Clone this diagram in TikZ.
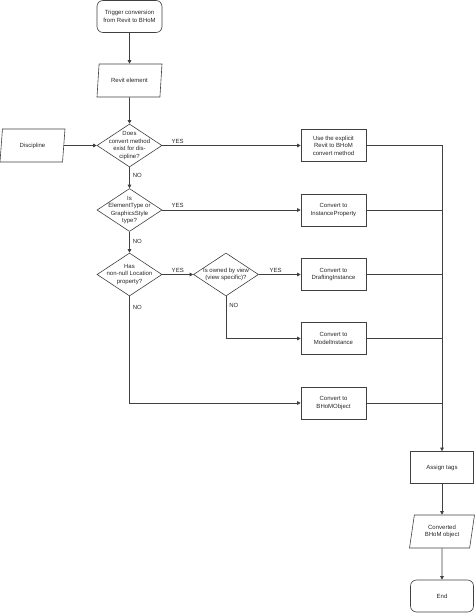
\documentclass[tikz,border=0pt]{standalone}
\usepackage{fontspec}
\setmainfont{Liberation Sans}
\usetikzlibrary{shapes.geometric,arrows.meta}

\tikzset{
  base/.style={draw=black!75, text=black!85, font=\fontsize{6}{7.4}\selectfont, align=center, inner sep=1pt, line width=0.6pt},
  process/.style={base, rectangle, minimum width=65pt, minimum height=32pt},
  terminal/.style={process, rounded corners=6pt},
  io/.style={base, trapezium, trapezium left angle=72, trapezium right angle=108, trapezium stretches body, minimum width=65pt, minimum height=33pt},
  decision/.style={base, diamond, minimum width=65pt, minimum height=43pt, inner sep=0pt},
  dtext/.style={text=black!85, font=\fontsize{6}{7.6}\selectfont, align=center, inner sep=0pt},
  line/.style={draw=black!75, line width=0.6pt},
  arrow/.style={line, -{Triangle[length=3.5pt,width=3.5pt]}},
  answer/.style={text=black!85, font=\fontsize{6}{7}\selectfont, inner sep=1pt}
}

\begin{document}
\begin{tikzpicture}[x=1pt, y=-1pt]
	\useasboundingbox (0,0) rectangle (474,613);
	% main column
	\node[terminal] (trigger) at (129.5,16.5) {Trigger conversion\\from Revit to BHoM};
	\node[io] (element) at (129.5,80.5) {Revit element};
	\node[io] (discipline) at (32.5,145.5) {Discipline};
	\node[decision, label={[dtext]center:Does\\convert method\\exist for dis-\\cipline?}] (hasmethod) at (129.5,145.5) {};
	\node[decision, label={[dtext]center:Is\\ElementType or\\GraphicsStyle\\type?}] (istype) at (129.5,210) {};
	\node[decision, label={[dtext]center:Has\\non-null Location\\property?}] (haslocation) at (129.5,274.5) {};
	\node[decision, label={[dtext]center:Is owned by view\\(view specific)?}] (isowned) at (226,274.5) {};
	% conversions
	\node[process] (explicit) at (333.5,145.5) {Use the explicit\\Revit to BHoM\\convert method};
	\node[process] (toproperty) at (333.5,210) {Convert to\\InstanceProperty};
	\node[process] (todrafting) at (333.5,274.5) {Convert to\\DraftingInstance};
	\node[process] (tomodel) at (333.5,338.5) {Convert to\\ModelInstance};
	\node[process] (tobhom) at (333.5,403) {Convert to\\BHoMObject};
	% output column
	\node[process, minimum width=63pt] (tags) at (442,467.5) {Assign tags};
	\node[io] (converted) at (442,531.5) {Converted\\BHoM object};
	\node[terminal, minimum width=63pt] (end) at (442,596) {End};

	\draw[arrow] (trigger) -- (element);
	\draw[arrow] (element) -- (hasmethod);
	\draw[arrow] (discipline.east) -- (hasmethod.west);
	\draw[arrow] (hasmethod.east) -- node[answer, pos=0.11, above, yshift=1pt]{YES} (explicit.west);
	\draw[arrow] (hasmethod.south) -- node[answer, pos=0.4, right, xshift=2pt]{NO} (istype.north);
	\draw[arrow] (istype.east) -- node[answer, pos=0.11, above, yshift=1pt]{YES} (toproperty.west);
	\draw[arrow] (istype.south) -- node[answer, pos=0.45, right, xshift=2pt]{NO} (haslocation.north);
	\draw[arrow] (haslocation.east) -- node[answer, pos=0.5, above, yshift=1pt]{YES} (isowned.west);
	\draw[arrow] (isowned.east) -- node[answer, pos=0.4, above, yshift=1pt]{YES} (todrafting.west);
	\draw[arrow] (isowned.south) |- node[answer, pos=0.11, right, xshift=2pt]{NO} (tomodel.west);
	\draw[arrow] (haslocation.south) |- node[answer, pos=0.05, right, xshift=2pt]{NO} (tobhom.west);

	\draw[arrow] (explicit.east) -| (tags.north);
	\foreach \n in {toproperty,todrafting,tomodel,tobhom}
		\draw[line] (\n.east) -- (\n.east -| tags.north);
	\draw[arrow] (tags) -- (converted);
	\draw[arrow] (converted) -- (end);
\end{tikzpicture}
\end{document}
